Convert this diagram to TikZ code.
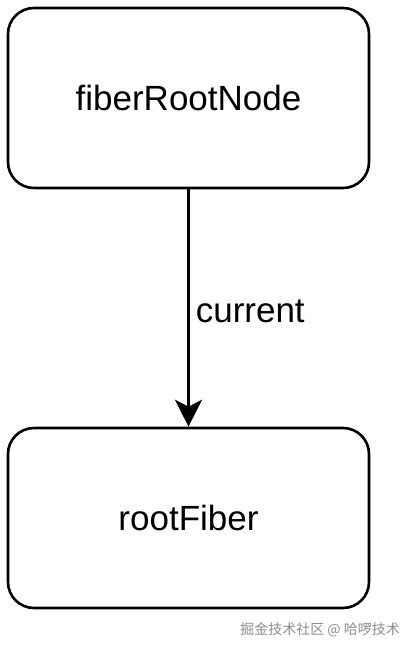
\documentclass[tikz,border=0pt]{standalone}
\usepackage{fontspec}
\setmainfont{Liberation Sans}
\newfontfamily\cjk{Noto Sans CJK SC}
\usetikzlibrary{arrows.meta}
\begin{document}
\begin{tikzpicture}[x=1pt,y=-1pt,
  box/.style={draw=black,line width=2.6pt,rounded corners=26pt,minimum width=361pt,minimum height=180pt,inner sep=0pt,font=\fontsize{35}{40}\selectfont},
  conn/.style={line width=2.6pt,-{Stealth[length=27pt,width=27pt,inset=7pt]}},
  lbl/.style={font=\fontsize{35}{40}\selectfont,inner sep=0pt,anchor=west},
  wmark/.style={font=\cjk\fontsize{14}{16}\selectfont,text=black!45,inner sep=0pt,anchor=east}]
\useasboundingbox (0,0) rectangle (411,651);
\node[box] (top) at (188.5,98) {fiberRootNode};
\node[box] (bot) at (188.5,518) {rootFiber};
\draw[conn] (top.south) -- (bot.north) node[lbl,pos=0.5,xshift=6pt,yshift=-3pt] (cur) {current};
\node[wmark] (wm) at (400,630) {掘金技术社区 @ 哈啰技术};
\end{tikzpicture}
\end{document}
